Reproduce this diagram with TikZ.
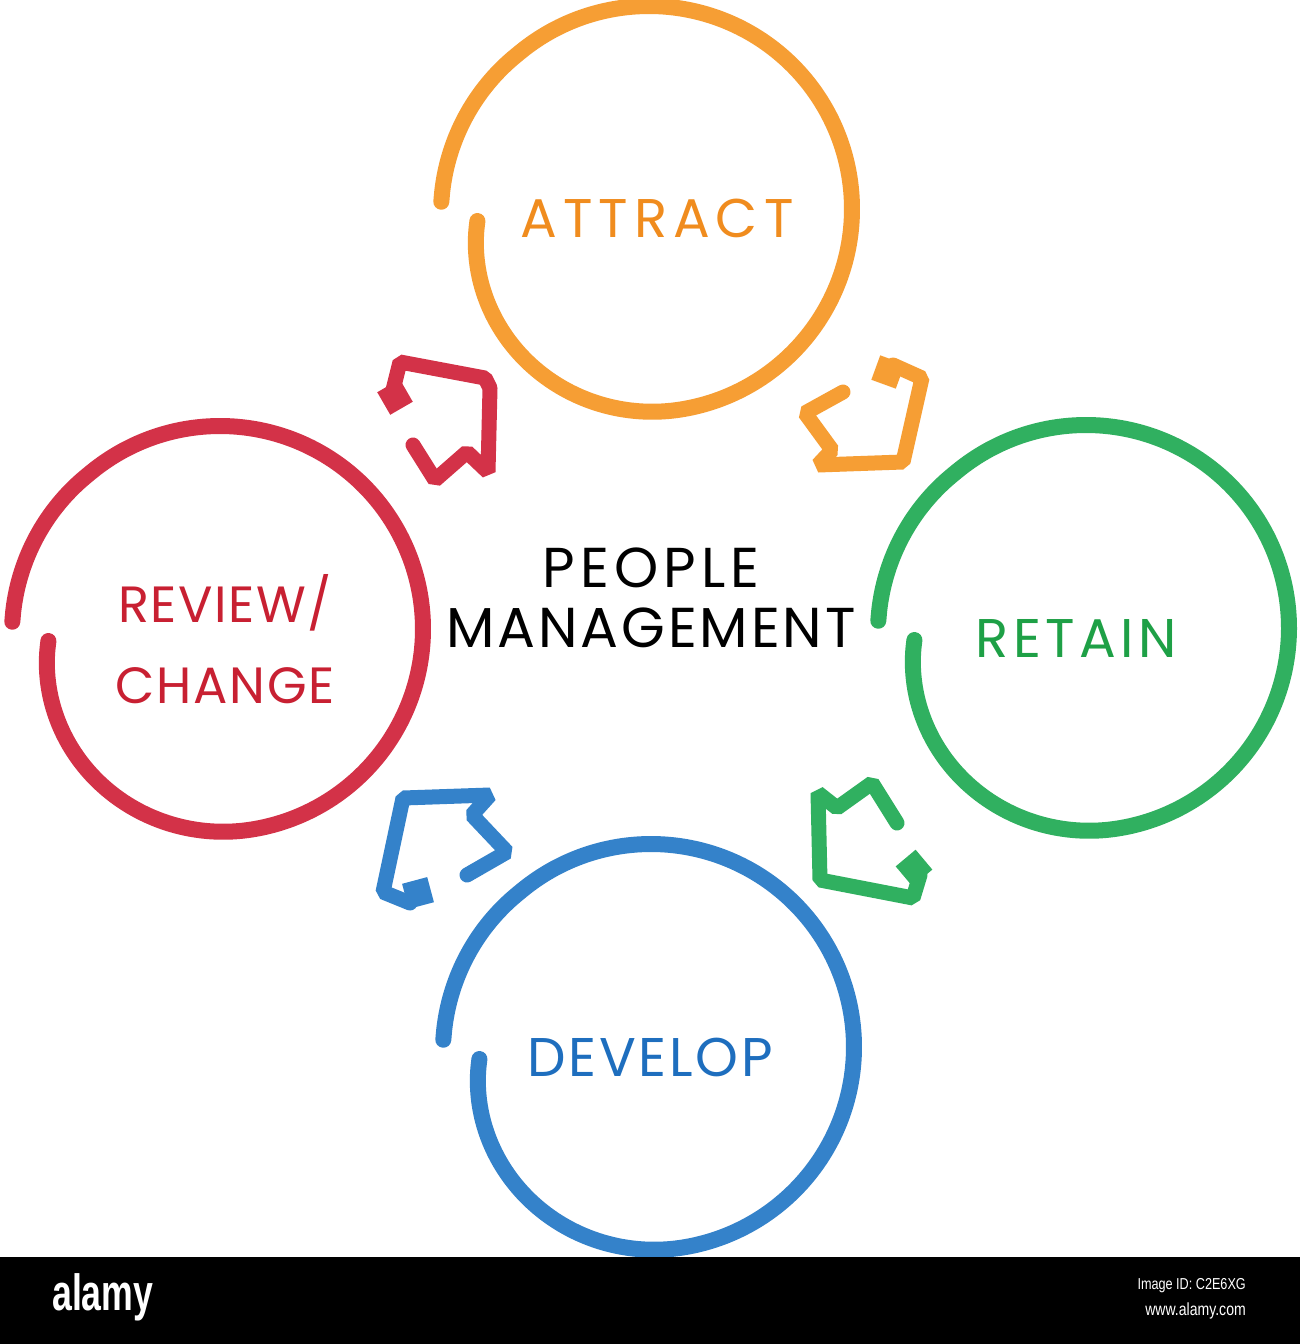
\documentclass[tikz,border=0pt]{standalone}
\usepackage{fontspec}
\setmainfont{Poppins}
\newfontfamily\bandfont{Liberation Sans}
\usepackage{tikz}
\definecolor{og}{RGB}{246,158,52}
\definecolor{ogt}{RGB}{240,140,30}
\definecolor{rd}{RGB}{211,50,72}
\definecolor{rdt}{RGB}{200,32,50}
\definecolor{gn}{RGB}{48,176,96}
\definecolor{gnt}{RGB}{30,160,70}
\definecolor{bl}{RGB}{52,130,202}
\definecolor{blt}{RGB}{30,110,190}
\newcommand{\spc}[1]{\addfontfeatures{LetterSpace=#1}}

\begin{document}
\begin{tikzpicture}
  [x=0.2mm, y=-0.2mm, line cap=round, line join=bevel,
   declare function={sprl(\t)=203-31*(1-min(1,(\t-184)/95))^2+5*max(0,(\t-490)/50);},
   ring/.style={line width=3.2mm},
   turn/.style={line width=3mm},
   lbl/.style={font=\fontsize{31}{31}\selectfont\spc{#1}, inner sep=0pt},
   lbl/.default=0]
    \fill[white] (0,0) rectangle (1300,1344);
    \useasboundingbox (0,0) rectangle (1300,1344);
    \foreach \nm/\cx/\cy/\col in {att/649/209/og,ret/1086/628/gn,
                  dev/651/1047/bl,rev/220/629/rd}{
      \coordinate (\nm) at (\cx,\cy);
      \draw[ring, color=\col] plot[domain=184:538, samples=120, smooth, variable=\t]
        ({\cx+sprl(\t)*cos(\t)},{\cy-sprl(\t)*sin(\t)});}
    \draw[turn, rd] (393,390) -- (400,362) -- (485,378) -- (490,388) -- (488,472)
      -- (467,452) -- (435,480) -- (413,445);
    \draw[turn, og] (843,392) -- (805,413) -- (832,450) -- (818,465) -- (903,462)
      -- (922,378) -- (893,365);
    \draw[turn, bl] (410,903) -- (383,892) -- (403,798) -- (490,795) -- (472,815)
      -- (507,852) -- (467,875);
    \draw[turn, gn] (897,823) -- (872,783) -- (837,808) -- (818,793) -- (820,880)
      -- (913,898) -- (920,875);
    \foreach \col/\bx/\by/\ang in {rd/395/397/30,og/888/372/-20,
                  bl/418/893/15,gn/914/868/40}{
      \fill[color=\col, rotate around={\ang:(\bx,\by)}]
        (\bx-13,\by-13) rectangle (\bx+13,\by+13);}
    \node[lbl=11, text=ogt] (attract) at (657,218) {ATTRACT};
    \node[lbl=8, text=gnt] (retain) at (1076,638) {RETAIN};
    \node[lbl=5, text=blt] (develop) at (650,1057) {DEVELOP};
    \node[lbl, text=rdt, align=center, font=\fontsize{29}{46}\selectfont]
      (review) at (225,639) {{\spc{3}REVIEW/}\\{\spc{3.5}CHANGE}};
    \node[lbl, align=center, font=\fontsize{32}{34}\selectfont]
      (people) at (651,598) {{\spc{9}PEOPLE}\\{\spc{5}MANAGEMENT}};
    \fill[black] (0,1257) rectangle (1300,1344);
    \node[text=white, anchor=west, font=\bandfont\bfseries\fontsize{29}{29}\selectfont]
      (brand) at (46,1297) {\scalebox{0.7}[1]{alamy}};
    \node[text=white, anchor=east, font=\bandfont\fontsize{9}{9}\selectfont]
      (imgid) at (1252,1286) {\scalebox{0.8}[1]{Image ID: C2E6XG}};
    \node[text=white, anchor=east, font=\bandfont\fontsize{10}{10}\selectfont]
      (site) at (1252,1311) {\scalebox{0.8}[1]{www.alamy.com}};
\end{tikzpicture}
\end{document}
